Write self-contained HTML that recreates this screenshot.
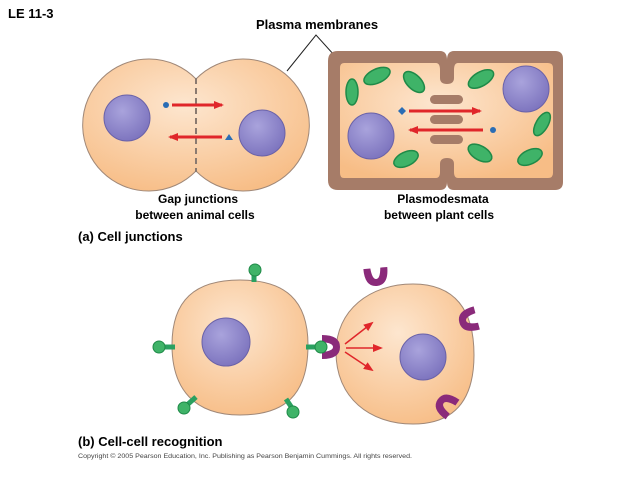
<!DOCTYPE html><html><head><style>body{margin:0;background:#fff}svg{display:block}text{font-family:"Liberation Sans",sans-serif;font-weight:bold}</style></head><body>
<svg width="638" height="478" viewBox="0 0 638 478" xmlns="http://www.w3.org/2000/svg">
<defs>
<radialGradient id="c" cx="0.45" cy="0.35" r="0.7"><stop offset="0" stop-color="#fde6cf"/><stop offset="1" stop-color="#f7bd86"/></radialGradient>
<radialGradient id="n" cx="0.4" cy="0.35" r="0.7"><stop offset="0" stop-color="#a9a3dc"/><stop offset="1" stop-color="#7b72bd"/></radialGradient>
<marker id="a" markerWidth="10" markerHeight="8" refX="8" refY="4" orient="auto" markerUnits="userSpaceOnUse"><path d="M0,0 L10,4 L0,8 z" fill="#e0262a"/></marker>
</defs>
<text x="8" y="18" font-size="13">LE 11-3</text>
<text x="317" y="29" font-size="13" text-anchor="middle">Plasma membranes</text>
<path d="M287 71 L316 35 L344 66" stroke="#222" fill="none" stroke-width="1"/>
<path d="M196 79 A66 66 0 1 0 196 171 A66 66 0 1 0 196 79 Z" fill="url(#c)" stroke="#a08878" stroke-width="1"/>
<line x1="196" y1="78" x2="196" y2="172" stroke="#8a7a70" stroke-width="2" stroke-dasharray="6,4"/>
<circle cx="127" cy="118" r="23" fill="url(#n)" stroke="#6a62a8"/>
<circle cx="262" cy="133" r="23" fill="url(#n)" stroke="#6a62a8"/>
<line x1="172" y1="105" x2="222" y2="105" stroke="#e0262a" stroke-width="3" marker-end="url(#a)"/>
<line x1="222" y1="137" x2="170" y2="137" stroke="#e0262a" stroke-width="3" marker-end="url(#a)"/>
<circle cx="166" cy="105" r="3" fill="#2a6db5"/>
<path d="M229 134 L233 140 L225 140 Z" fill="#2a6db5"/>
<path d="M338 51 H440 Q447 51 447 60 Q447 51 454 51 H555 Q563 51 563 59 V182 Q563 190 555 190 H454 Q447 190 447 182 Q447 190 440 190 H338 Q328 190 328 180 V61 Q328 51 338 51 Z" fill="#a67c68"/>
<path d="M344 63 H436 Q440 63 440 70 V78 Q440 84 447 84 Q454 84 454 78 V70 Q454 63 458 63 H548 Q553 63 553 68 V173 Q553 178 548 178 H458 Q454 178 454 172 V164 Q454 158 447 158 Q440 158 440 164 V172 Q440 178 436 178 H344 Q340 178 340 173 V68 Q340 63 344 63 Z" fill="url(#c)"/>
<rect x="430" y="95" width="33" height="9" rx="4.5" fill="#a67c68"/>
<rect x="430" y="115" width="33" height="9" rx="4.5" fill="#a67c68"/>
<rect x="430" y="135" width="33" height="9" rx="4.5" fill="#a67c68"/>
<g fill="#3fb368" stroke="#1f8a48" stroke-width="1.5">
<ellipse cx="352" cy="92" rx="6" ry="13"/>
<ellipse cx="377" cy="76" rx="14" ry="7" transform="rotate(-25 377 76)"/>
<ellipse cx="414" cy="82" rx="13" ry="7" transform="rotate(45 414 82)"/>
<ellipse cx="481" cy="79" rx="14" ry="7" transform="rotate(-30 481 79)"/>
<ellipse cx="542" cy="124" rx="13" ry="6" transform="rotate(-60 542 124)"/>
<ellipse cx="480" cy="153" rx="13" ry="7" transform="rotate(30 480 153)"/>
<ellipse cx="530" cy="157" rx="13" ry="7" transform="rotate(-25 530 157)"/>
<ellipse cx="406" cy="159" rx="13" ry="7" transform="rotate(-25 406 159)"/>
</g>
<circle cx="371" cy="136" r="23" fill="url(#n)" stroke="#6a62a8"/>
<circle cx="526" cy="89" r="23" fill="url(#n)" stroke="#6a62a8"/>
<line x1="409" y1="111" x2="480" y2="111" stroke="#e0262a" stroke-width="3" marker-end="url(#a)"/>
<line x1="483" y1="130" x2="410" y2="130" stroke="#e0262a" stroke-width="3" marker-end="url(#a)"/>
<path d="M402 107 L406 111 L402 115 L398 111 Z" fill="#2a6db5"/>
<circle cx="493" cy="130" r="3" fill="#2a6db5"/>
<text x="198" y="203" font-size="12" text-anchor="middle">Gap junctions</text>
<text x="195" y="219" font-size="12" text-anchor="middle">between animal cells</text>
<text x="443" y="203" font-size="12" text-anchor="middle">Plasmodesmata</text>
<text x="439" y="219" font-size="12" text-anchor="middle">between plant cells</text>
<text x="78" y="241" font-size="13">(a) Cell junctions</text>
<path d="M240 280 C285 280 308 300 308 345 C308 395 285 415 240 415 C195 415 172 390 172 345 C172 300 195 280 240 280 Z" fill="url(#c)" stroke="#a08878"/>
<path d="M413 284 C455 284 474 310 474 355 C474 405 450 424 413 424 C370 424 336 398 336 352 C336 310 370 284 413 284 Z" fill="url(#c)" stroke="#a08878"/>
<circle cx="226" cy="342" r="24" fill="url(#n)" stroke="#6a62a8"/>
<circle cx="423" cy="357" r="23" fill="url(#n)" stroke="#6a62a8"/>
<g stroke="#2aa060" stroke-width="5" fill="#3fb368">
<line x1="254" y1="282" x2="254" y2="274"/><line x1="175" y1="347" x2="164" y2="347"/><line x1="306" y1="347" x2="318" y2="347"/><line x1="196" y1="397" x2="187" y2="405"/><line x1="286" y1="399" x2="292" y2="408"/>
</g>
<g fill="#3fb368" stroke="#1f8a48">
<circle cx="255" cy="270" r="6"/><circle cx="159" cy="347" r="6"/><circle cx="184" cy="408" r="6"/><circle cx="293" cy="412" r="6"/>
</g>
<g fill="#8a2a7a">
<path d="M-12,-8 L-5,-8 Q-4,3 0,3 Q4,3 5,-8 L12,-8 Q12,10 0,10 Q-12,10 -12,-8 Z" transform="translate(376,276) rotate(-5)"/>
<path d="M-12,-8 L-5,-8 Q-4,3 0,3 Q4,3 5,-8 L12,-8 Q12,10 0,10 Q-12,10 -12,-8 Z" transform="translate(469,320) rotate(75)"/>
<path d="M-12,-8 L-5,-8 Q-4,3 0,3 Q4,3 5,-8 L12,-8 Q12,10 0,10 Q-12,10 -12,-8 Z" transform="translate(446,405) rotate(125)"/>
<path d="M-12,-8 L-5,-8 Q-4,3 0,3 Q4,3 5,-8 L12,-8 Q12,10 0,10 Q-12,10 -12,-8 Z" transform="translate(330,347) rotate(-90)"/>
</g>
<circle cx="321" cy="347" r="6" fill="#3fb368" stroke="#1f8a48"/>
<g stroke="#e0262a" stroke-width="1.5">
<line x1="345" y1="344" x2="372" y2="323" marker-end="url(#a)"/>
<line x1="346" y1="348" x2="381" y2="348" marker-end="url(#a)"/>
<line x1="345" y1="352" x2="372" y2="370" marker-end="url(#a)"/>
</g>
<text x="78" y="446" font-size="13">(b) Cell-cell recognition</text>
<text x="78" y="458" font-size="6.5" fill="#444" style="font-weight:normal" textLength="334" lengthAdjust="spacingAndGlyphs">Copyright © 2005 Pearson Education, Inc. Publishing as Pearson Benjamin Cummings. All rights reserved.</text>
</svg></body></html>
